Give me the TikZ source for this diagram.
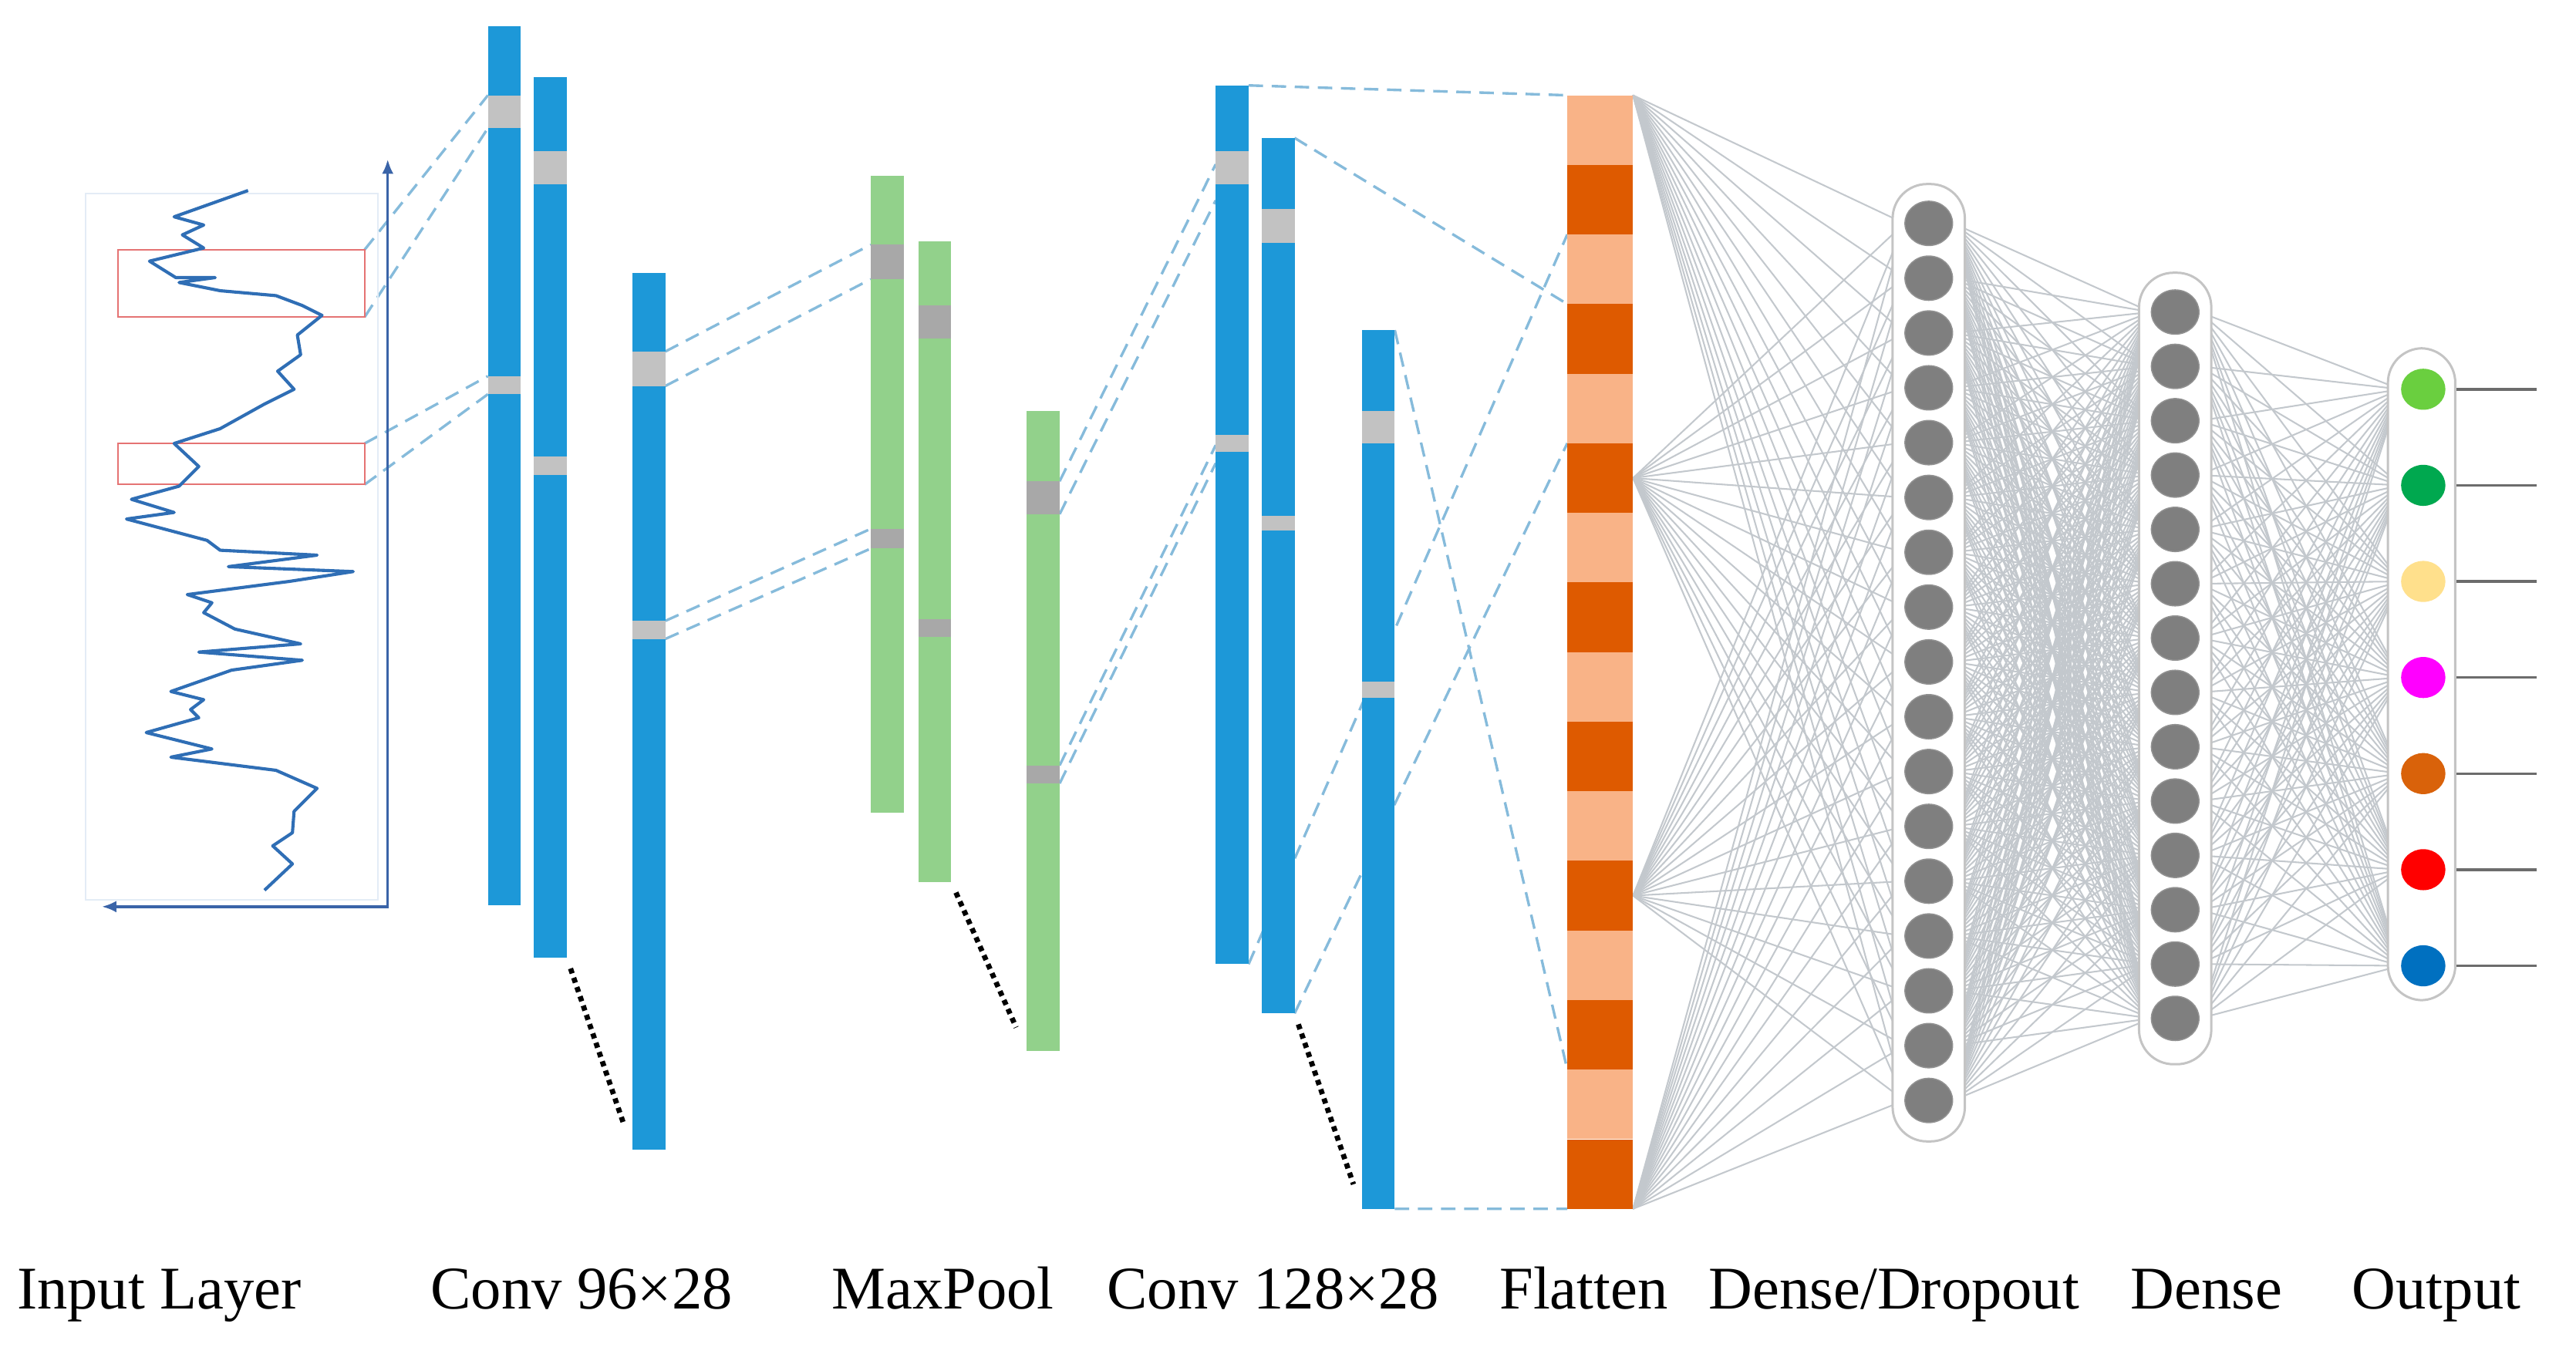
\documentclass[tikz,border=0pt]{standalone}
\usepackage{fontspec}
\setmainfont{Liberation Serif}
\usepackage{tikz}
\usetikzlibrary{calc}
\usetikzlibrary{shapes}
\usetikzlibrary{arrows.meta}
\usetikzlibrary{backgrounds}

\definecolor{convblue}{HTML}{1D98D8}
\definecolor{poolgreen}{HTML}{92D18B}
\definecolor{bandlight}{HTML}{C2C2C2}
\definecolor{banddark}{HTML}{A8A8A8}
\definecolor{linkblue}{HTML}{86BBDB}
\definecolor{flatlight}{HTML}{F9B387}
\definecolor{flatdark}{HTML}{DE5A00}
\definecolor{wiregray}{HTML}{C3C8CD}
\definecolor{capsgray}{HTML}{C4C4C4}
\definecolor{neurongray}{HTML}{7F7F7F}
\definecolor{axisblue}{HTML}{3A64A8}
\definecolor{signalblue}{HTML}{2F6EB5}
\definecolor{windowred}{HTML}{E57373}
\definecolor{framefaint}{HTML}{E3ECF6}
\definecolor{outA}{HTML}{6ACF3F}
\definecolor{outB}{HTML}{00A84F}
\definecolor{outC}{HTML}{FFE08C}
\definecolor{outD}{HTML}{FF00FF}
\definecolor{outE}{HTML}{D9620A}
\definecolor{outF}{HTML}{FF0000}
\definecolor{outG}{HTML}{0070C0}

\tikzset{
  featbar/.style={draw=none, anchor=north west, minimum width=0.4cm, inner sep=0pt, outer sep=0pt},
  window/.style={draw=windowred, line width=0.6pt, anchor=north west, minimum width=3cm, inner sep=0pt, outer sep=0pt},
  link/.style={draw=linkblue, line width=0.9pt, dash pattern=on 5pt off 3pt},
  gap/.style={draw=black, line width=1.8pt, dash pattern=on 1.8pt off 1.6pt},
  wire/.style={draw=wiregray, line width=0.55pt},
  capsule/.style={draw=capsgray, fill=white, line width=0.8pt, rounded corners=0.42cm, inner sep=0pt},
  neuron/.style={ellipse, fill=neurongray, draw=neurongray!85!white, minimum width=0.58cm, minimum height=0.54cm, inner sep=0pt},
  outneuron/.style={ellipse, minimum width=0.54cm, minimum height=0.5cm, inner sep=0pt},
  layername/.style={anchor=base, font=\fontsize{21}{25}\selectfont}
}

% bar or band: name, colour, left x, top y, bottom y
\newcommand{\featbar}[5]{ \node[featbar, fill=#2, minimum height={(#5-#4)*0.02cm}] (#1) at (#3,#4) {};}

\begin{document}
\begin{tikzpicture}[x=0.02cm,y=-0.02cm]
    \useasboundingbox (0,0) rectangle (1568,824);

    % input layer
    \draw[framefaint, line width=0.6pt] (52,118) rectangle (230,548);
    \node[window, minimum height=0.82cm] (win1) at (72,152) {};
    \node[window, minimum height=0.5cm] (win2) at (72,270) {};
    \draw[axisblue, line width=0.9pt, arrows={Latex[length=5pt,width=4pt]-Latex[length=5pt,width=4pt]}] (236,97) -- (236,552) -- (62,552);
    \draw[signalblue, line width=1.1pt, line join=round] (151,116) -- (106,132) -- (124,137) -- (111,143) -- (124,151) -- (91,159) -- (107,169) -- (131,169) -- (109,172) -- (134,177) -- (168,180) -- (184,186) -- (196,192) -- (181,204) -- (183,216) -- (169,226) -- (179,237) -- (161,246) -- (134,261) -- (106,270) -- (121,284) -- (109,296) -- (80,304) -- (106,312) -- (77,316) -- (126,329) -- (134,335) -- (193,338) -- (139,345) -- (215,348) -- (176,354) -- (114,362) -- (129,367) -- (124,373) -- (143,383) -- (183,392) -- (121,397) -- (184,402) -- (141,408) -- (104,421) -- (124,426) -- (116,432) -- (121,437) -- (89,446) -- (129,456) -- (104,461) -- (168,469) -- (193,480) -- (179,494) -- (178,507) -- (166,515) -- (178,526) -- (161,542);

    % conv 96x28
    \featbar{cA}{convblue}{297}{16}{551}
    \featbar{cB}{convblue}{325}{47}{583}
    \featbar{cC}{convblue}{385}{166}{700}
    \featbar{cA1}{bandlight}{297}{58}{78}
    \featbar{cA2}{bandlight}{297}{229}{240}
    \featbar{cB1}{bandlight}{325}{92}{112}
    \featbar{cB2}{bandlight}{325}{278}{289}
    \featbar{cC1}{bandlight}{385}{214}{235}
    \featbar{cC2}{bandlight}{385}{378}{389}

    % maxpool
    \featbar{pD}{poolgreen}{530}{107}{495}
    \featbar{pE}{poolgreen}{559}{147}{537}
    \featbar{pF}{poolgreen}{625}{250}{640}
    \featbar{pD1}{banddark}{530}{149}{170}
    \featbar{pD2}{banddark}{530}{322}{334}
    \featbar{pE1}{banddark}{559}{186}{206}
    \featbar{pE2}{banddark}{559}{377}{388}
    \featbar{pF1}{banddark}{625}{293}{313}
    \featbar{pF2}{banddark}{625}{466}{477}

    % conv 128x28
    \featbar{cG}{convblue}{740}{52}{587}
    \featbar{cH}{convblue}{768}{84}{617}
    \featbar{cI}{convblue}{829}{201}{736}
    \featbar{cG1}{bandlight}{740}{92}{112}
    \featbar{cG2}{bandlight}{740}{265}{275}
    \featbar{cH1}{bandlight}{768}{127}{148}
    \featbar{cH2}{bandlight}{768}{314}{323}
    \featbar{cI1}{bandlight}{829}{250}{270}
    \featbar{cI2}{bandlight}{829}{415}{425}

    % flatten
    \foreach \k in {1,...,16}{
        \ifodd\k\relax \def\fc{flatlight}\else \def\fc{flatdark}\fi
        \node[featbar, fill=\fc, minimum width=0.8cm, minimum height=0.8475cm] (f\k) at (954,{58+42.375*(\k-1)}) {};
    }

    % dense / dropout
    \node[capsule, minimum width=0.88cm, minimum height=11.66cm] (ddcaps) at (1174,403.5) {};
    \foreach \i in {1,...,17}
        \node[neuron] (dd\i) at (1174,{136+33.375*(\i-1)}) {};

    % dense
    \node[capsule, minimum width=0.88cm, minimum height=9.64cm] (dncaps) at (1324,407) {};
    \foreach \j in {1,...,14}
        \node[neuron] (dn\j) at (1324,{190+33.08*(\j-1)}) {};

    % output
    \node[capsule, minimum width=0.82cm, minimum height=7.94cm] (outcaps) at (1474,410.5) {};
    \foreach \k/\c in {1/outA,2/outB,3/outC,4/outD,5/outE,6/outF,7/outG}{
        \node[outneuron, fill=\c] (out\k) at (1475,{237+58.5*(\k-1)}) {};
        \coordinate (oend\k) at (1544,{237+58.5*(\k-1)});
    }

    % connectors behind
    \begin{scope}[on background layer]
        \draw[link] (win1.north east) -- (cA1.north west);
        \draw[link] (win1.south east) -- (cA1.south west);
        \draw[link] (win2.north east) -- (cA2.north west);
        \draw[link] (win2.south east) -- (cA2.south west);
        \draw[link] (cC1.north east) -- (pD1.north west);
        \draw[link] (cC1.south east) -- (pD1.south west);
        \draw[link] (cC2.north east) -- (pD2.north west);
        \draw[link] (cC2.south east) -- (pD2.south west);
        \draw[link] (pF1.north east) -- ([yshift=-0.16cm]cG1.north west);
        \draw[link] (pF1.south east) -- ([yshift=-0.2cm]cG1.south west);
        \draw[link] (pF2.north east) -- ([yshift=-0.12cm]cG2.north west);
        \draw[link] (pF2.south east) -- ([yshift=-0.14cm]cG2.south west);
        \draw[link] (cG.north east) -- (f1.north west);
        \draw[link] (cH.north east) -- (f3.south west);
        \draw[link] (cG.south east) -- (f3.north west);
        \draw[link] (cH.south east) -- (f6.north west);
        \draw[link] (cI.north east) -- (f14.south west);
        \draw[link] (cI.south east) -- (f16.south west);
        \foreach \s in {f1.north east, f6.east, f12.east, f16.south east}
            \foreach \i in {1,...,17}
                \draw[wire] (\s) -- (dd\i.west);
        \foreach \i in {1,...,17}
            \foreach \j in {1,...,14}
                \draw[wire] (dd\i.east) -- (dn\j.west);
        \foreach \j in {1,...,14}
            \foreach \k in {1,...,7}
                \draw[wire] (dn\j.east) -- (out\k.west);
        \foreach \k in {1,...,7}
            \draw[gray!85!black, line width=0.9pt] (out\k.east) -- (oend\k);
    \end{scope}

    % skipped maps
    \draw[gap, shorten <=4pt, shorten >=9pt] (cB.south east) -- (cC.south west);
    \draw[gap, shorten <=4pt, shorten >=9pt] (pE.south east) -- (pF.south west);
    \draw[gap, shorten <=4pt, shorten >=9pt] (cH.south east) -- (cI.south west);

    % layer names
    \node[layername] (lblin) at (97,797) {Input Layer};
    \node[layername] (lblc1) at (354,797) {Conv 96×28};
    \node[layername] (lblmp) at (574,797) {MaxPool};
    \node[layername] (lblc2) at (775,797) {Conv 128×28};
    \node[layername] (lblfl) at (964,797) {Flatten};
    \node[layername] (lbldd) at (1153,797) {Dense/Dropout};
    \node[layername] (lbldn) at (1343,797) {Dense};
    \node[layername] (lblout) at (1483,797) {Output};

\end{tikzpicture}
\end{document}
